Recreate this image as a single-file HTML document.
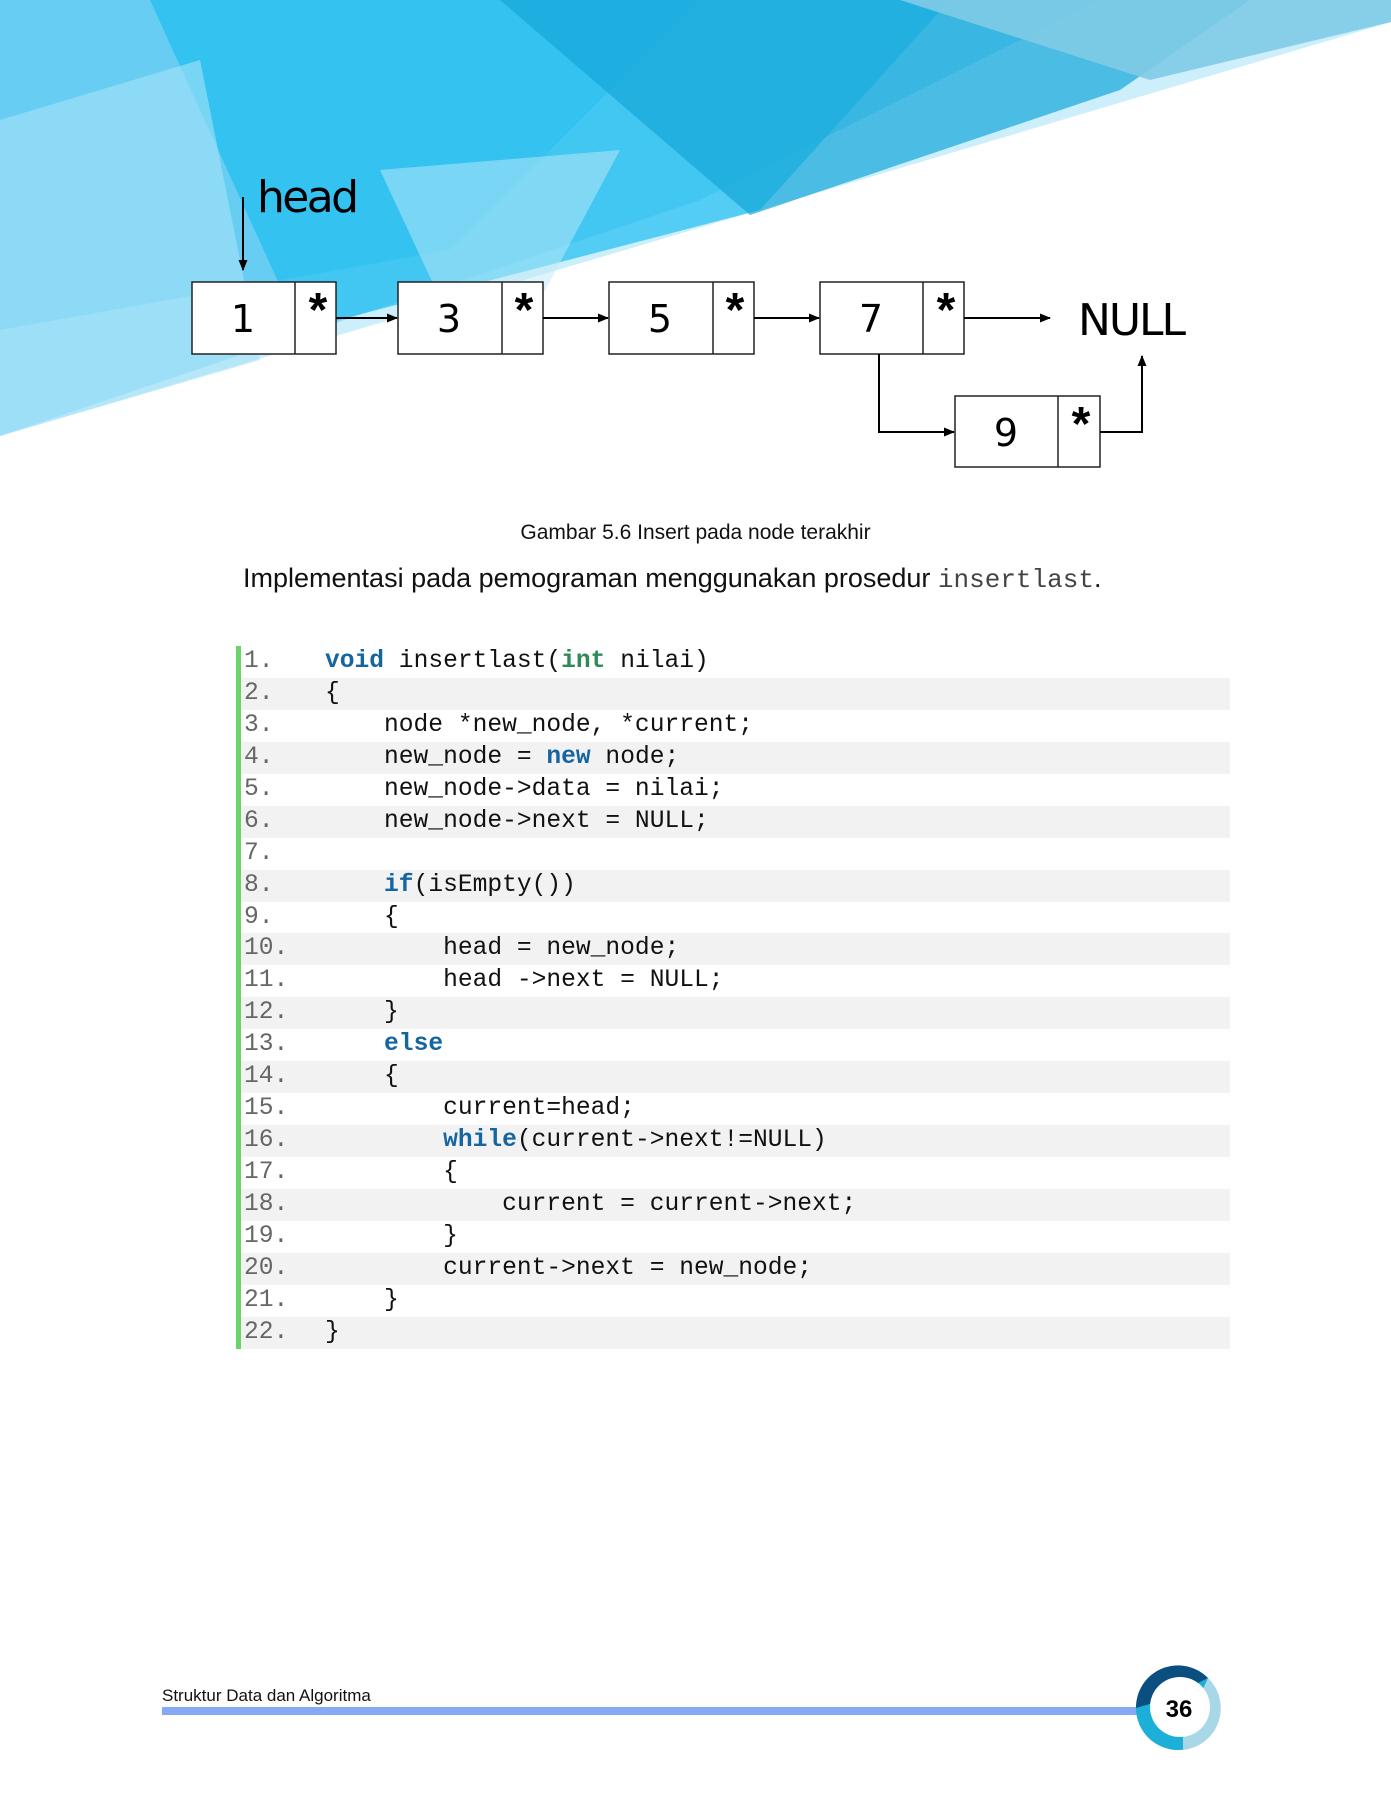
<!DOCTYPE html>
<html><head><meta charset="utf-8"><style>
body{margin:0;width:1391px;height:1800px;position:relative;background:#fff;overflow:hidden;font-family:"Liberation Sans",sans-serif}
.abs{position:absolute}
.code{position:absolute;left:236px;top:646px;width:994px}
.ln{height:31.95px;line-height:32px;font-family:"Liberation Mono",monospace;font-size:24.6px;color:#111;white-space:pre;position:relative;border-left:5px solid #6ad36a}
.ln:nth-child(even){background:#f2f2f2}
.ln .n{color:#666;position:absolute;left:3px}
.ln .c{position:absolute;left:84px}
.k{color:#1565a0;font-weight:bold}
.t{color:#2e8b57;font-weight:bold}
</style></head><body>
<svg class="abs" style="left:0;top:0" width="1391" height="480">
<polygon points="0,0 1391,0 1391,22 0,436" fill="#cdeefb"/>
<polygon points="0,0 1100,0 700,200 0,436" fill="#8fdaf6"/>
<polygon points="0,0 700,0 450,250 0,330" fill="#5cc9f2" opacity="0.8"/>
<polygon points="150,0 950,0 760,210 300,330" fill="#1fbfef" opacity="0.7"/>
<polygon points="500,0 1250,0 1120,90 750,215" fill="#14a6d8" opacity="0.7"/>
<polygon points="900,0 1391,0 1391,22 1150,80" fill="#7fcbe6" opacity="0.9"/>
<polygon points="0,120 200,60 260,360 0,436" fill="#a6e3f8" opacity="0.6"/>
<polygon points="380,170 620,150 540,300 450,320" fill="#bfeafa" opacity="0.5"/>
</svg>
<svg class="abs" style="left:0;top:0" width="1391" height="480">
<defs><marker id="a" markerWidth="11" markerHeight="9" refX="10" refY="4.5" orient="auto" markerUnits="userSpaceOnUse"><path d="M0,0 L11,4.5 L0,9z" fill="#000"/></marker></defs>
<g fill="#fff" stroke="#222" stroke-width="1.5">
<rect x="192" y="282" width="144" height="72"/><line x1="295" y1="282" x2="295" y2="354"/>
<rect x="398" y="282" width="145" height="72"/><line x1="502" y1="282" x2="502" y2="354"/>
<rect x="609" y="282" width="145" height="72"/><line x1="713" y1="282" x2="713" y2="354"/>
<rect x="820" y="282" width="144" height="72"/><line x1="923" y1="282" x2="923" y2="354"/>
<rect x="955" y="396" width="145" height="71"/><line x1="1058" y1="396" x2="1058" y2="467"/>
</g>
<g stroke="#000" stroke-width="2" fill="none" marker-end="url(#a)">
<line x1="243" y1="197" x2="243" y2="270"/>
<line x1="336" y1="318" x2="397" y2="318"/>
<line x1="543" y1="318" x2="608" y2="318"/>
<line x1="754" y1="318" x2="819" y2="318"/>
<line x1="964" y1="318" x2="1050" y2="318"/>
<polyline points="879,354 879,432 954,432"/>
<polyline points="1100,432 1142,432 1142,356"/>
</g>
<g font-family="DejaVu Sans,sans-serif" font-size="38" text-anchor="middle" fill="#000">
<text x="243" y="332">1</text><text x="449" y="332">3</text><text x="660" y="332">5</text><text x="871" y="332">7</text><text x="1006" y="446">9</text>
<g font-family="Liberation Sans,sans-serif" font-weight="bold" font-size="48">
<text x="318" y="326">*</text><text x="524" y="326">*</text><text x="735" y="326">*</text><text x="946" y="326">*</text><text x="1081" y="440">*</text></g>
</g>
<text x="257" y="212" font-family="DejaVu Sans,sans-serif" font-size="44" textLength="102">head</text>
<text x="1078" y="335" font-family="DejaVu Sans,sans-serif" font-size="44" textLength="108">NULL</text>
</svg>
<div class="abs" style="left:0;width:1391px;top:521px;text-align:center;font-size:21px;color:#111">Gambar 5.6 Insert pada node terakhir</div>
<div class="abs" style="left:243px;top:563px;font-size:27px;color:#111">Implementasi pada pemograman menggunakan prosedur <span style="font-family:'Liberation Mono',monospace;font-size:26px;color:#444">insertlast</span>.</div>
<div class="code">
<div class="ln"><span class="n">1.</span><span class="c"><span class="k">void</span> insertlast(<span class="t">int</span> nilai)</span></div>
<div class="ln"><span class="n">2.</span><span class="c">{</span></div>
<div class="ln"><span class="n">3.</span><span class="c">    node *new_node, *current;</span></div>
<div class="ln"><span class="n">4.</span><span class="c">    new_node = <span class="k">new</span> node;</span></div>
<div class="ln"><span class="n">5.</span><span class="c">    new_node-&gt;data = nilai;</span></div>
<div class="ln"><span class="n">6.</span><span class="c">    new_node-&gt;next = NULL;</span></div>
<div class="ln"><span class="n">7.</span><span class="c"></span></div>
<div class="ln"><span class="n">8.</span><span class="c">    <span class="k">if</span>(isEmpty())</span></div>
<div class="ln"><span class="n">9.</span><span class="c">    {</span></div>
<div class="ln"><span class="n">10.</span><span class="c">        head = new_node;</span></div>
<div class="ln"><span class="n">11.</span><span class="c">        head -&gt;next = NULL;</span></div>
<div class="ln"><span class="n">12.</span><span class="c">    }</span></div>
<div class="ln"><span class="n">13.</span><span class="c">    <span class="k">else</span></span></div>
<div class="ln"><span class="n">14.</span><span class="c">    {</span></div>
<div class="ln"><span class="n">15.</span><span class="c">        current=head;</span></div>
<div class="ln"><span class="n">16.</span><span class="c">        <span class="k">while</span>(current-&gt;next!=NULL)</span></div>
<div class="ln"><span class="n">17.</span><span class="c">        {</span></div>
<div class="ln"><span class="n">18.</span><span class="c">            current = current-&gt;next;</span></div>
<div class="ln"><span class="n">19.</span><span class="c">        }</span></div>
<div class="ln"><span class="n">20.</span><span class="c">        current-&gt;next = new_node;</span></div>
<div class="ln"><span class="n">21.</span><span class="c">    }</span></div>
<div class="ln"><span class="n">22.</span><span class="c">}</span></div>
</div>
<div class="abs" style="left:162px;top:1686px;font-size:17px;color:#111">Struktur Data dan Algoritma</div>
<div class="abs" style="left:162px;top:1707px;width:980px;height:8px;background:#86a8f5"></div>
<svg class="abs" style="left:1128px;top:1658px" width="100" height="100">
<circle cx="50" cy="50" r="42" fill="#1cb0d8"/>
<path d="M8,50 A42,42 0 0 1 80,20 L60,30 A22,22 0 0 0 25,45z" fill="#0a4f80"/>
<path d="M80,20 A42,42 0 0 1 55,92 L55,75z" fill="#a8d8e8"/>
<circle cx="52" cy="49" r="30" fill="#fff"/>
<text x="51" y="59" text-anchor="middle" font-family="Liberation Sans,sans-serif" font-weight="bold" font-size="24">36</text>
</svg>
</body></html>
